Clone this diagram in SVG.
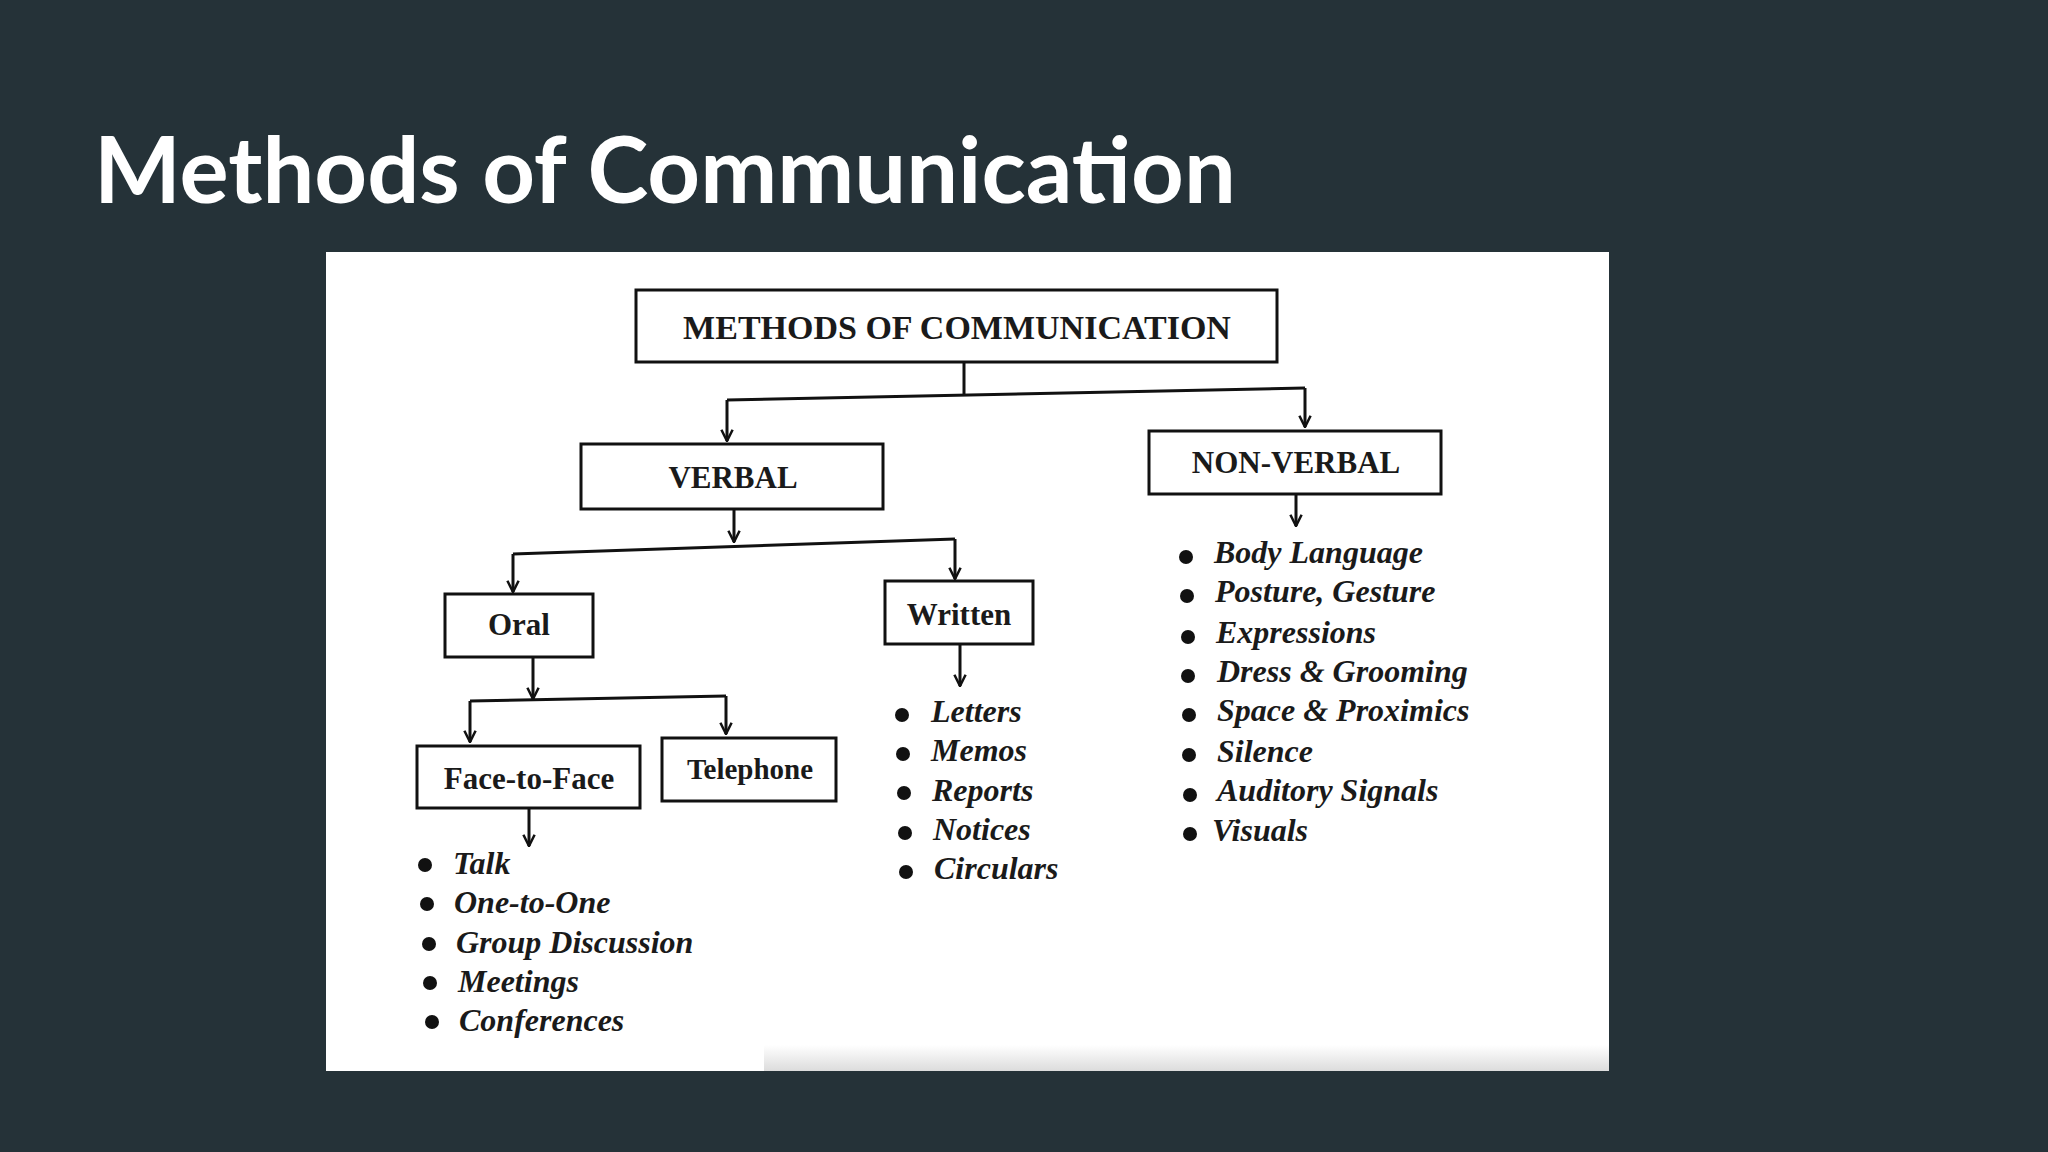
<svg xmlns="http://www.w3.org/2000/svg" width="2048" height="1152" viewBox="0 0 2048 1152">
<defs>
<marker id="ah" viewBox="0 0 10 10" refX="9" refY="5" markerWidth="14" markerHeight="14" markerUnits="userSpaceOnUse" orient="auto">
<path d="M1,1 L9,5 L1,9" fill="none" stroke="#111" stroke-width="1.8"/>
</marker>
<linearGradient id="g" x1="0" y1="0" x2="0" y2="1"><stop offset="0" stop-color="#fff"/><stop offset="1" stop-color="#dcdcdc"/></linearGradient>
</defs>
<style>
.box{fill:#fff;stroke:#111;stroke-width:3}
.lbl{font-family:"Liberation Serif",serif;font-weight:bold;font-size:31px;fill:#1a1a1a;text-anchor:middle;dominant-baseline:central}
.li{font-family:"Liberation Serif",serif;font-weight:bold;font-style:italic;font-size:32px;fill:#1a1a1a;dominant-baseline:central}
.c{fill:none;stroke:#111;stroke-width:3}
.b{fill:#111}
</style>
<rect width="2048" height="1152" fill="#253238"/>
<text x="94" y="203" font-family="Lato,'Open Sans',sans-serif" font-weight="bold" font-size="92" fill="#fff">Methods of Communication</text>
<rect x="326" y="252" width="1283" height="819" fill="#fff"/>
<rect x="764" y="1045" width="845" height="26" fill="url(#g)"/>
<g id="connectors">
<path class="c" d="M964,362 V394"/>
<path class="c" d="M727,400 L1305,388"/>
<path class="c" d="M727,400 V441" marker-end="url(#ah)"/>
<path class="c" d="M1305,388 V427" marker-end="url(#ah)"/>
<path class="c" d="M734,509 V542" marker-end="url(#ah)"/>
<path class="c" d="M513,554 L955,539"/>
<path class="c" d="M513,554 V592" marker-end="url(#ah)"/>
<path class="c" d="M955,539 V579" marker-end="url(#ah)"/>
<path class="c" d="M533,657 V699" marker-end="url(#ah)"/>
<path class="c" d="M470,701 L726,696"/>
<path class="c" d="M470,701 V742" marker-end="url(#ah)"/>
<path class="c" d="M726,696 V734" marker-end="url(#ah)"/>
<path class="c" d="M529,808 V846" marker-end="url(#ah)"/>
<path class="c" d="M960,644 V686" marker-end="url(#ah)"/>
<path class="c" d="M1296,494 V526" marker-end="url(#ah)"/>
</g>
<g id="methods"><rect class="box" x="636" y="290" width="641" height="72"/><text class="lbl" x="957" y="327" style="font-size:34px">METHODS OF COMMUNICATION</text></g>
<g id="verbal"><rect class="box" x="581" y="444" width="302" height="65"/><text class="lbl" x="733" y="477">VERBAL</text></g>
<g id="nonverbal"><rect class="box" x="1149" y="431" width="292" height="63"/><text class="lbl" x="1296" y="462">NON-VERBAL</text></g>
<g id="oral"><rect class="box" x="445" y="594" width="148" height="63"/><text class="lbl" x="519" y="624">Oral</text></g>
<g id="written"><rect class="box" x="885" y="581" width="148" height="63"/><text class="lbl" x="959" y="614">Written</text></g>
<g id="face"><rect class="box" x="417" y="746" width="223" height="62"/><text class="lbl" x="529" y="778">Face-to-Face</text></g>
<g id="telephone"><rect class="box" x="662" y="738" width="174" height="63"/><text class="lbl" x="750" y="769" style="font-size:29px">Telephone</text></g>
<g id="face-list">
<circle class="b" cx="425" cy="865" r="7"/><text class="li" x="453" y="863">Talk</text>
<circle class="b" cx="427" cy="904" r="7"/><text class="li" x="454" y="902">One-to-One</text>
<circle class="b" cx="429" cy="944" r="7"/><text class="li" x="456" y="942">Group Discussion</text>
<circle class="b" cx="430" cy="983" r="7"/><text class="li" x="458" y="981">Meetings</text>
<circle class="b" cx="432" cy="1022" r="7"/><text class="li" x="459" y="1020">Conferences</text>
</g>
<g id="written-list">
<circle class="b" cx="902" cy="715" r="7"/><text class="li" x="931" y="711">Letters</text>
<circle class="b" cx="903" cy="754" r="7"/><text class="li" x="931" y="750">Memos</text>
<circle class="b" cx="904" cy="793" r="7"/><text class="li" x="932" y="790">Reports</text>
<circle class="b" cx="905" cy="833" r="7"/><text class="li" x="933" y="829">Notices</text>
<circle class="b" cx="906" cy="872" r="7"/><text class="li" x="934" y="868">Circulars</text>
</g>
<g id="nonverbal-list">
<circle class="b" cx="1186" cy="557" r="7"/><text class="li" x="1214" y="552">Body Language</text>
<circle class="b" cx="1187" cy="596" r="7"/><text class="li" x="1215" y="591">Posture, Gesture</text>
<circle class="b" cx="1188" cy="637" r="7"/><text class="li" x="1216" y="632">Expressions</text>
<circle class="b" cx="1188" cy="676" r="7"/><text class="li" x="1217" y="671">Dress &amp; Grooming</text>
<circle class="b" cx="1189" cy="715" r="7"/><text class="li" x="1217" y="710">Space &amp; Proximics</text>
<circle class="b" cx="1189" cy="755" r="7"/><text class="li" x="1217" y="751">Silence</text>
<circle class="b" cx="1190" cy="795" r="7"/><text class="li" x="1217" y="790">Auditory Signals</text>
<circle class="b" cx="1190" cy="834" r="7"/><text class="li" x="1212" y="830">Visuals</text>
</g>
</svg>
